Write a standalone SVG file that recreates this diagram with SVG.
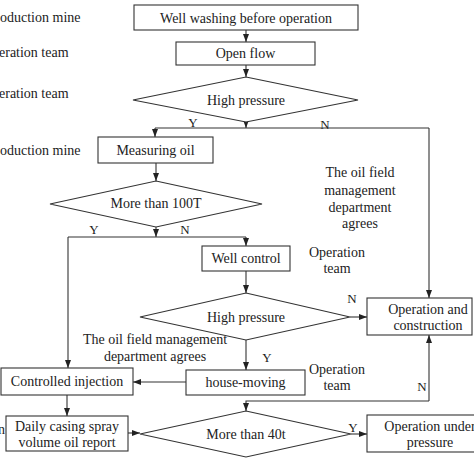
<svg xmlns="http://www.w3.org/2000/svg" width="474" height="474" viewBox="0 0 474 474">
<style>
.b{fill:#fff;stroke:#333;stroke-width:1.1}
.c{fill:none;stroke:#333;stroke-width:1.1}
text{font-family:"Liberation Serif","Times New Roman",serif;font-size:14px;fill:#222}
.m{text-anchor:middle}
.s{font-size:13px}
</style>
<defs>
<marker id="a" markerUnits="userSpaceOnUse" markerWidth="8" markerHeight="6" refX="8" refY="3" orient="auto">
<path d="M0,0 L8,3 L0,6 z" fill="#222"/>
</marker>
</defs>
<rect width="474" height="474" fill="#fff"/>

<g id="labels">
<text x="0" y="22">oduction mine</text>
<text x="-1" y="57">eration team</text>
<text x="-1" y="98">eration team</text>
<text x="0" y="155">oduction mine</text>
<text x="-2" y="434">n</text>
<text class="m" x="360" y="177">The oil field</text>
<text class="m" x="360" y="195">management</text>
<text class="m" x="360" y="212">department</text>
<text class="m" x="360" y="228">agrees</text>
<text class="m" x="337" y="257">Operation</text>
<text class="m" x="337" y="273">team</text>
<text class="m" x="155" y="344">The oil field management</text>
<text class="m" x="155" y="361">department agrees</text>
<text class="m" x="337" y="374">Operation</text>
<text class="m" x="337" y="390">team</text>
<text class="m s" x="193" y="127">Y</text>
<text class="m s" x="325" y="129">N</text>
<text class="m s" x="94" y="234">Y</text>
<text class="m s" x="185" y="234">N</text>
<text class="m s" x="352" y="303">N</text>
<text class="m s" x="267" y="362">Y</text>
<text class="m s" x="422" y="391">N</text>
<text class="m s" x="353" y="432">Y</text>
</g>

<g id="connectors">
<path class="c" d="M246,30 V42" marker-end="url(#a)"/>
<path class="c" d="M246,65 V77" marker-end="url(#a)"/>
<path class="c" d="M246,122 V128" marker-end="url(#a)"/>
<path class="c" d="M155,128 H429"/>
<path class="c" d="M155,128 V137" marker-end="url(#a)"/>
<path class="c" d="M429,128 V298" marker-end="url(#a)"/>
<path class="c" d="M156,163 V181" marker-end="url(#a)"/>
<path class="c" d="M156,227 V237" marker-end="url(#a)"/>
<path class="c" d="M68,237 H246"/>
<path class="c" d="M68,237 V368" marker-end="url(#a)"/>
<path class="c" d="M246,237 V246" marker-end="url(#a)"/>
<path class="c" d="M246,271 V293" marker-end="url(#a)"/>
<path class="c" d="M350,317 H367" marker-end="url(#a)"/>
<path class="c" d="M246,340 V370" marker-end="url(#a)"/>
<path class="c" d="M186,382 H133" marker-end="url(#a)"/>
<path class="c" d="M67,395 V416" marker-end="url(#a)"/>
<path class="c" d="M128,433 H140" marker-end="url(#a)"/>
<path class="c" d="M429,401 V335" marker-end="url(#a)"/>
<path class="c" d="M429,401 H246 V411" marker-end="url(#a)"/>
<path class="c" d="M351,434 H367" marker-end="url(#a)"/>
</g>

<g id="n1"><rect class="b" x="134" y="5" width="224" height="25"/><text class="m" x="246" y="23">Well washing before operation</text></g>
<g id="n2"><rect class="b" x="176" y="42" width="139" height="23"/><text class="m" x="245.5" y="58">Open flow</text></g>
<g id="n3"><path class="b" d="M246,77 L358,100 L246,122 L133,100 Z"/><text class="m" x="246" y="105">High pressure</text></g>
<g id="n4"><rect class="b" x="98" y="137" width="115" height="26"/><text class="m" x="155.5" y="155">Measuring oil</text></g>
<g id="n5"><path class="b" d="M156,181 L262,204 L156,227 L50,204 Z"/><text class="m" x="156" y="208">More than 100T</text></g>
<g id="n6"><rect class="b" x="202" y="246" width="88" height="25"/><text class="m" x="246" y="263">Well control</text></g>
<g id="n7"><path class="b" d="M246,293 L350,317 L246,340 L140,317 Z"/><text class="m" x="246" y="322">High pressure</text></g>
<g id="n8"><rect class="b" x="367" y="298" width="105" height="37"/><text class="m" x="428" y="314">Operation and</text><text class="m" x="428" y="330">construction</text></g>
<g id="n9"><rect class="b" x="186" y="370" width="119" height="25"/><text class="m" x="245.5" y="387">house-moving</text></g>
<g id="n10"><rect class="b" x="1" y="368" width="132" height="27"/><text class="m" x="67" y="386">Controlled injection</text></g>
<g id="n11"><rect class="b" x="6" y="416" width="122" height="35"/><text class="m" x="67" y="431">Daily casing spray</text><text class="m" x="67" y="447">volume oil report</text></g>
<g id="n12"><path class="b" d="M246,411 L351,434 L246,457 L140,434 Z"/><text class="m" x="246" y="439">More than 40t</text></g>
<g id="n13"><rect class="b" x="367" y="415" width="125" height="37"/><text class="m" x="430" y="431">Operation under</text><text class="m" x="430" y="447">pressure</text></g>
</svg>
